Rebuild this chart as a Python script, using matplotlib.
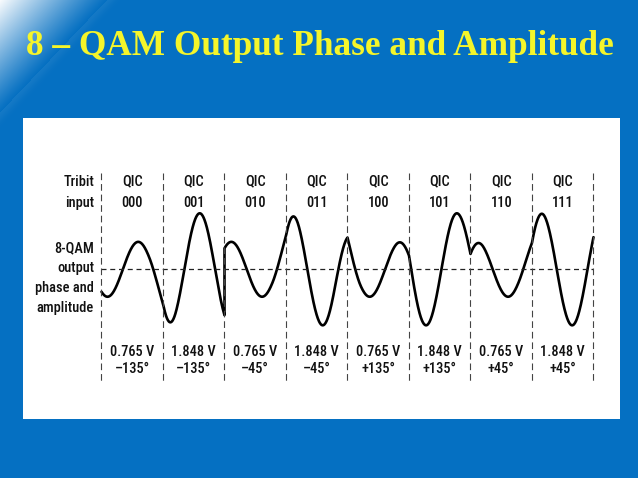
import numpy as np
import matplotlib
matplotlib.use('Agg')
import matplotlib.pyplot as plt
from matplotlib import font_manager as fm

# symbol data
tribits = ['000', '001', '010', '011', '100', '101', '110', '111']
volts = ['0.765 V', '1.848 V', '0.765 V', '1.848 V', '0.765 V', '1.848 V', '0.765 V', '1.848 V']
phases = ['–135°', '–135°', '–45°', '–45°', '+135°', '+135°', '+45°', '+45°']
# waveform as drawn in the picture (relative height, start phase in degrees)
drawn_amp = [0.49, 1.0, 0.49, 1.0, 0.49, 1.0, 0.49, 1.0]
drawn_phase = [-125, -125, 50, 55, 140, 170, 50, 35]
# symbol boundaries where the drawn trace really jumps (after symbol k)
jump_after = [1]
side_top = ['Tribit', 'input']
side_mid = ['8-QAM', 'output', 'phase and', 'amplitude']

# look for a narrow sans font, the scan uses Arial Narrow
narrow = None
fonts = fm.fontManager.ttflist
names = {f.name for f in fonts}
for cand in ['Liberation Sans Narrow', 'Arial Narrow', 'Roboto Condensed',
             'DejaVu Sans Condensed', 'Open Sans Condensed', 'Noto Sans Condensed']:
    if cand in names:
        narrow = dict(family=[cand, 'DejaVu Sans'])
        break
if narrow is None:
    for f in fonts:
        if f.name in ('DejaVu Sans', 'Noto Sans', 'Open Sans') and f.stretch in ('condensed', 'semi-condensed', 500, 75):
            narrow = dict(family=[f.name], stretch='condensed')
            break
if narrow is None:
    fnt = dict(family=['Liberation Sans', 'DejaVu Sans'], fontsize=9)
else:
    fnt = dict(fontsize=10.4, weight='medium', **narrow)
fnt['color'] = '#111111'

W, H = 638, 478
fig = plt.figure(figsize=(W / 100, H / 100), dpi=100)

# slide background with the light streak in the top left corner
bg = fig.add_axes([0, 0, 1, 1])
yy, xx = np.mgrid[0:H, 0:W]
d = (xx + yy * 0.95) / 106.0
w = np.clip(1 - d, 0, 1) ** 1.1 * 0.97
w = w + 0.06 * np.exp(-((d - 1.0) / 0.08) ** 2) * (d > 1)
blue = np.array([5, 112, 194]) / 255.0
img = blue[None, None, :] * (1 - w[..., None]) + w[..., None]
bg.imshow(np.clip(img, 0, 1), extent=[0, W, H, 0], aspect='auto')
bg.set_xlim(0, W)
bg.set_ylim(H, 0)
bg.axis('off')

fig.text(319.5 / W, 1 - 55 / H, '8 – QAM Output Phase and Amplitude',
         family=['Liberation Serif', 'DejaVu Serif'], weight='bold',
         fontsize=25.4, color='#F5F52A', ha='center', va='baseline')

# white panel
x0, x1, y0, y1 = 22.7, 620, 118.3, 419
ax = fig.add_axes([x0 / W, 1 - y1 / H, (x1 - x0) / W, (y1 - y0) / H])
ax.set_facecolor('white')
for s in ax.spines.values():
    s.set_visible(False)
ax.set_xticks([])
ax.set_yticks([])

# data coords: 1 symbol = 61.5 px, 1 y unit = 56 px
sx, sy, xc, yc = 61.5, 56.0, 101.5, 269.3
ax.set_xlim((x0 - xc) / sx, (x1 - xc) / sx)
ax.set_ylim((yc - y1) / sy, (yc - y0) / sy)

n = len(tribits)
amp = np.array(drawn_amp)
ph = np.radians(drawn_phase)
start = amp * np.sin(ph)          # value at start of each symbol
end = amp * np.sin(ph + 2 * np.pi)
# join neighbouring symbols where the hand drawn trace is continuous
s_off = np.zeros(n)
e_off = np.zeros(n)
for k in range(n - 1):
    if k in jump_after:
        continue
    mid = 0.5 * (end[k] + start[k + 1])
    e_off[k] = mid - end[k]
    s_off[k + 1] = mid - start[k + 1]

taper = 0.22
xs, ys = [], []
for k in range(n):
    t = np.linspace(0, 1, 200)
    ws = np.clip(1 - t / taper, 0, 1) ** 2
    we = np.clip(1 - (1 - t) / taper, 0, 1) ** 2
    xs.append(k + t)
    ys.append(amp[k] * np.sin(2 * np.pi * t + ph[k]) + s_off[k] * ws + e_off[k] * we)
ax.plot(np.concatenate(xs), np.concatenate(ys), color='black', lw=1.9,
        solid_joinstyle='round', solid_capstyle='round')

ax.plot([0, n], [0, 0], color='#222222', lw=0.9, dashes=(4, 3))
for k in range(n + 1):
    ax.plot([k, k], [1.72, -2.01], color='#444444', lw=0.8, dashes=(6, 3.5))

for k in range(n):
    ax.text(k + 0.5, 1.564, 'QIC', ha='center', va='center', **fnt)
    ax.text(k + 0.5, 1.179, tribits[k], ha='center', va='center', **fnt)
    ax.text(k + 0.5, -1.471, volts[k], ha='center', va='center', **fnt)
    ax.text(k + 0.5, -1.789, phases[k], ha='center', va='center', **fnt)

for i, s in enumerate(side_top):
    ax.text(-0.12, 1.564 - i * 0.385, s, ha='right', va='center', **fnt)
for i, s in enumerate(side_mid):
    ax.text(-0.12, 0.375 - i * 0.357, s, ha='right', va='center', **fnt)

fig.savefig('out.png', dpi=100)
